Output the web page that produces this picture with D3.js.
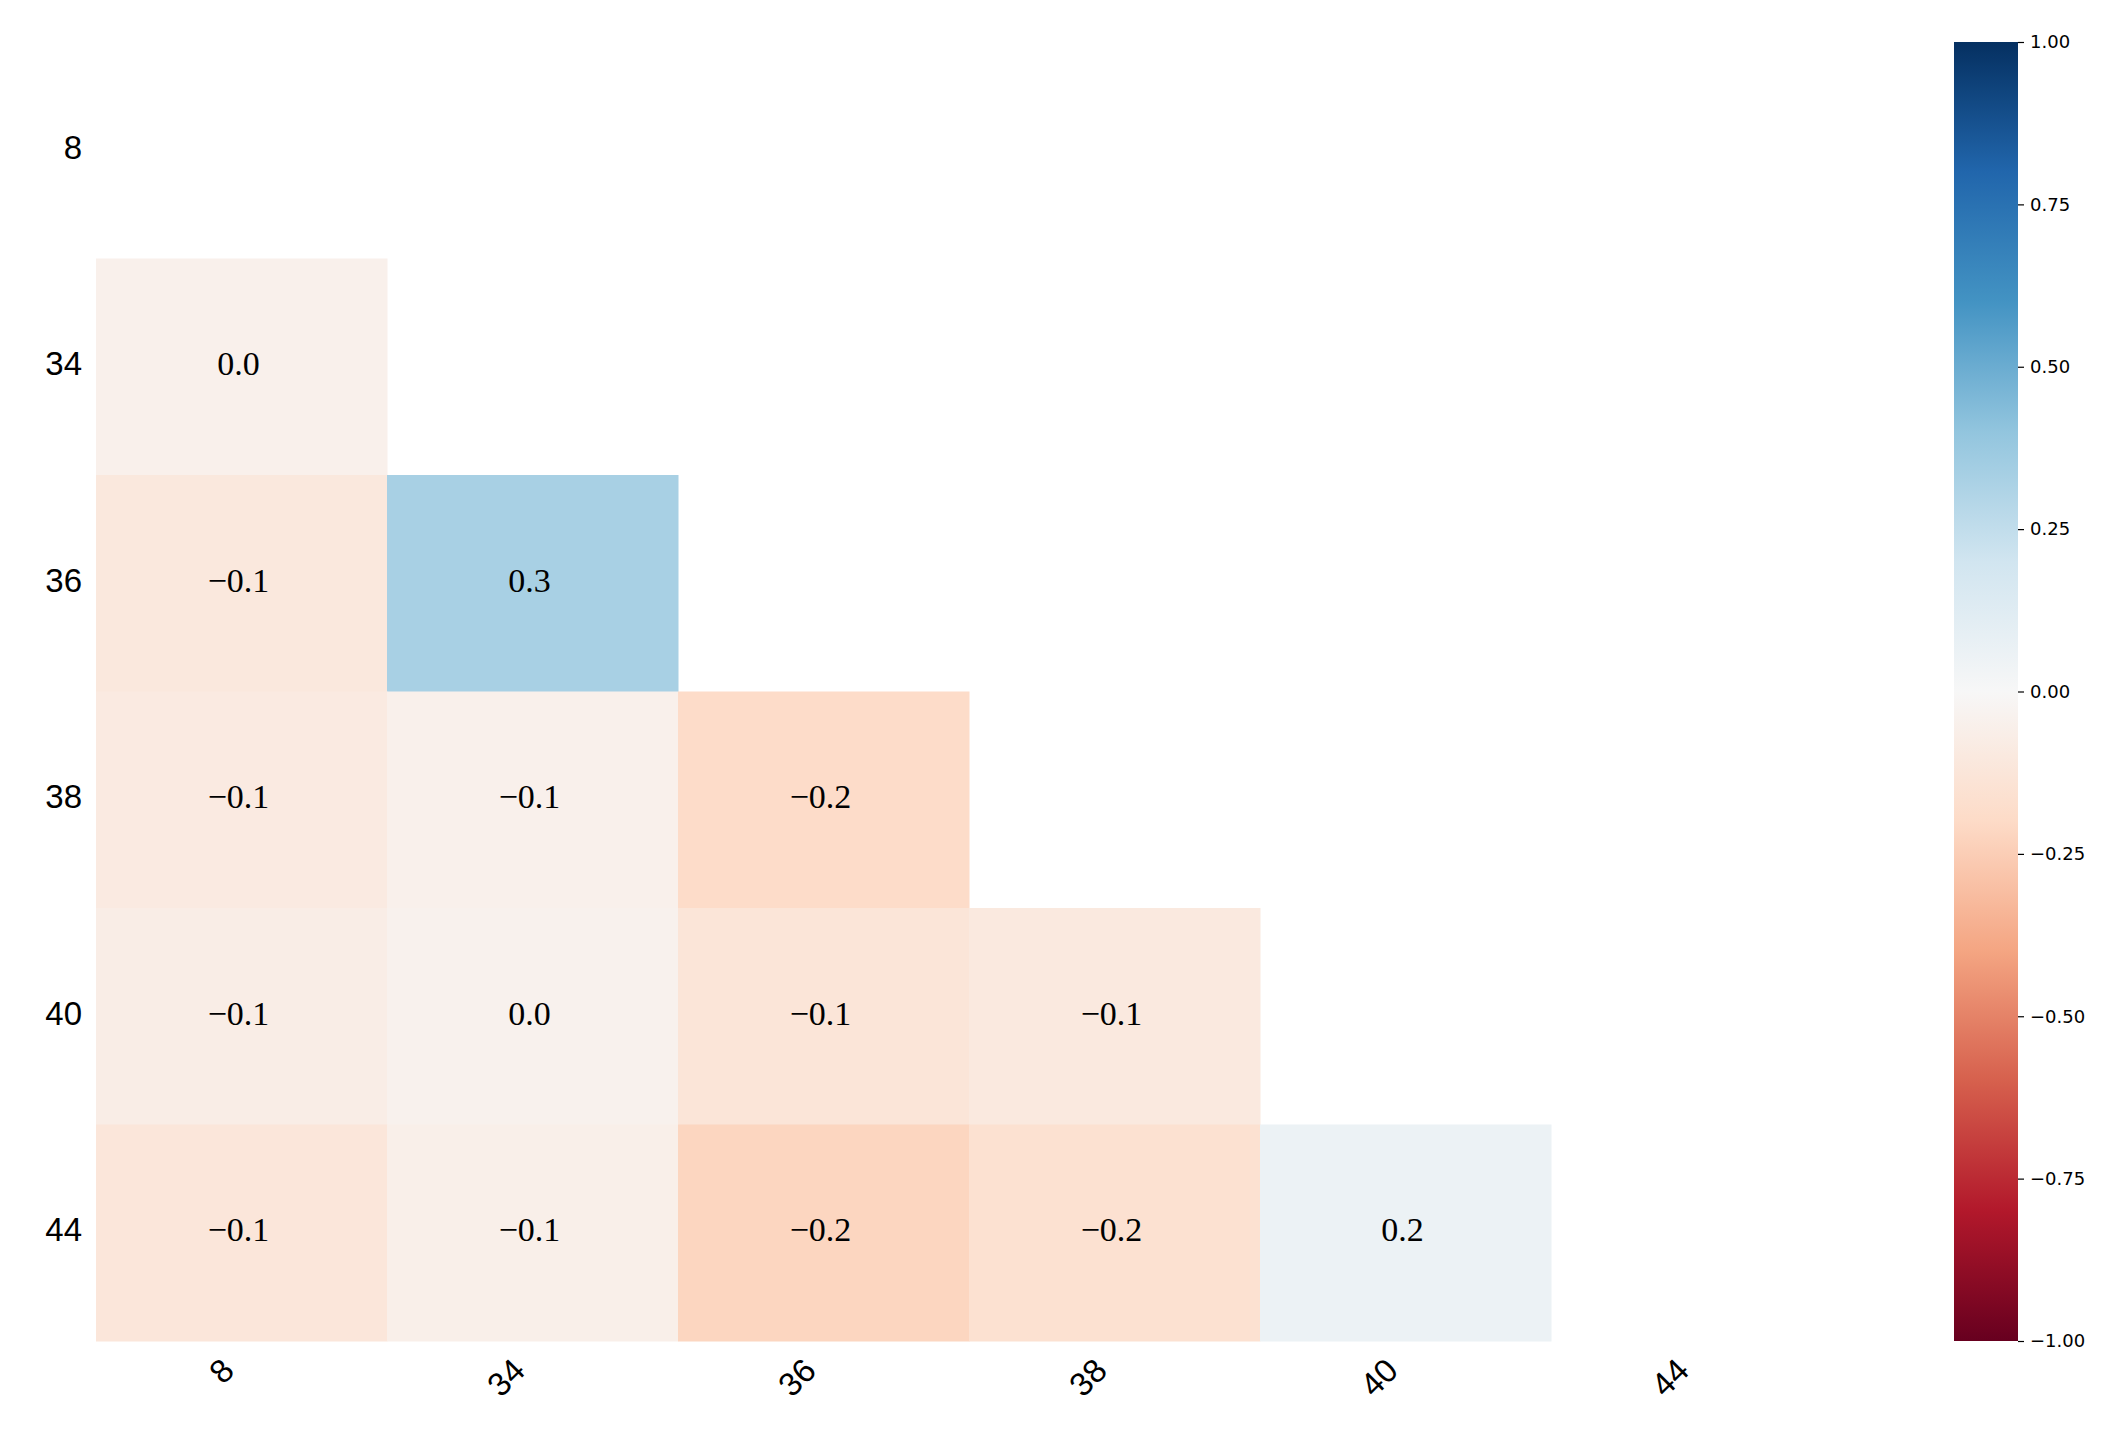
<!DOCTYPE html>
<html>
<head>
<meta charset="utf-8">
<script src="https://cdn.jsdelivr.net/npm/d3@7"></script>
<style>
  html, body { margin: 0; padding: 0; background: #ffffff; }
  svg { display: block; }
</style>
</head>
<body>
<svg id="chart" width="2122" height="1430"></svg>
<script>
// ---- data ----
const rowLabels = ["8", "34", "36", "38", "40", "44"];
const colLabels = ["8", "34", "36", "38", "40", "44"];
// cell values (colour), null = masked (upper triangle)
const values = [
  [null,  null,  null,  null,  null, null],
  [-0.05, null,  null,  null,  null, null],
  [-0.11, 0.33,  null,  null,  null, null],
  [-0.09, -0.05, -0.19, null,  null, null],
  [-0.07, -0.04, -0.13, -0.10, null, null],
  [-0.12, -0.06, -0.22, -0.16, 0.06, null]
];
// annotation texts as printed in the cells
const annotations = [
  [null,   null,   null,   null,   null,  null],
  ["0.0",  null,   null,   null,   null,  null],
  ["−0.1", "0.3",  null,   null,   null,  null],
  ["−0.1", "−0.1", "−0.2", null,   null,  null],
  ["−0.1", "0.0",  "−0.1", "−0.1", null,  null],
  ["−0.1", "−0.1", "−0.2", "−0.2", "0.2", null]
];
const colorbarTicks = [-1, -0.75, -0.5, -0.25, 0, 0.25, 0.5, 0.75, 1];
const rdbuStops = ["#67001f","#b2182b","#d6604d","#f4a582","#fddbc7","#f7f7f7","#d1e5f0","#92c5de","#4393c3","#2166ac","#053061"];

// ---- layout ----
const svg = d3.select("#chart");
const plotLeft = 96, plotRight = 1842, plotTop = 42, plotBottom = 1341;

const x = d3.scaleBand().domain(colLabels).range([plotLeft, plotRight]);
const y = d3.scaleBand().domain(rowLabels).range([plotTop, plotBottom]);

const color = d3.scaleLinear()
  .domain(d3.range(rdbuStops.length).map(i => -1 + 2 * i / (rdbuStops.length - 1)))
  .range(rdbuStops)
  .interpolate(d3.interpolateRgb)
  .clamp(true);

const cells = [];
values.forEach((row, i) => row.forEach((v, j) => {
  if (v !== null) cells.push({ r: rowLabels[i], c: colLabels[j], v, t: annotations[i][j] });
}));

svg.append("g").selectAll("rect").data(cells).join("rect")
  .attr("x", d => x(d.c))
  .attr("y", d => y(d.r))
  .attr("width", x.bandwidth() + 0.5)
  .attr("height", y.bandwidth() + 0.5)
  .attr("fill", d => color(d.v));

svg.append("g").selectAll("text").data(cells).join("text")
  .attr("x", d => x(d.c) + x.bandwidth() / 2 - 3)
  .attr("y", d => y(d.r) + y.bandwidth() / 2 - 3)
  .attr("text-anchor", "middle")
  .attr("dominant-baseline", "central")
  .style("font-family", "'Liberation Serif', 'Times New Roman', serif")
  .style("font-size", "34px")
  .attr("fill", "#000")
  .text(d => d.t);

// row labels
svg.append("g").selectAll("text").data(rowLabels).join("text")
  .attr("x", 82)
  .attr("y", d => y(d) + y.bandwidth() / 2 - 3)
  .attr("text-anchor", "end")
  .attr("dominant-baseline", "central")
  .style("font-family", "'Liberation Sans', Arial, sans-serif")
  .style("font-size", "33px")
  .attr("fill", "#000")
  .text(d => d);

// column labels (rotated)
svg.append("g").selectAll("text").data(colLabels).join("text")
  .attr("transform", d => `translate(${x(d) + x.bandwidth() / 2 - 23},1355) rotate(-45)`)
  .attr("text-anchor", "end")
  .attr("dy", "0.75em")
  .style("font-family", "'Liberation Sans', Arial, sans-serif")
  .style("font-size", "33px")
  .attr("fill", "#000")
  .text(d => d);

// ---- colorbar ----
const cbX = 1954, cbW = 64;
const cbScale = d3.scaleLinear().domain([-1, 1]).range([plotBottom, plotTop]);
const defs = svg.append("defs");
const grad = defs.append("linearGradient").attr("id", "cbgrad")
  .attr("x1", 0).attr("y1", 1).attr("x2", 0).attr("y2", 0);
grad.selectAll("stop").data(rdbuStops).join("stop")
  .attr("offset", (d, i) => i / (rdbuStops.length - 1))
  .attr("stop-color", d => d);
svg.append("rect")
  .attr("x", cbX).attr("y", plotTop)
  .attr("width", cbW).attr("height", plotBottom - plotTop)
  .attr("fill", "url(#cbgrad)");

const cbAxis = d3.axisRight(cbScale)
  .tickValues(colorbarTicks)
  .tickSize(6)
  .tickPadding(6)
  .tickFormat(d => d3.format(".2f")(d).replace("-", "−"));
const cbG = svg.append("g").attr("transform", `translate(${cbX + cbW},0)`).call(cbAxis);
cbG.select(".domain").remove();
cbG.selectAll(".tick line").attr("stroke", "#000").attr("stroke-width", 1.2);
cbG.selectAll(".tick text")
  .style("font-family", "'DejaVu Sans', sans-serif")
  .style("font-size", "18px")
  .attr("fill", "#000");
</script>
</body>
</html>
